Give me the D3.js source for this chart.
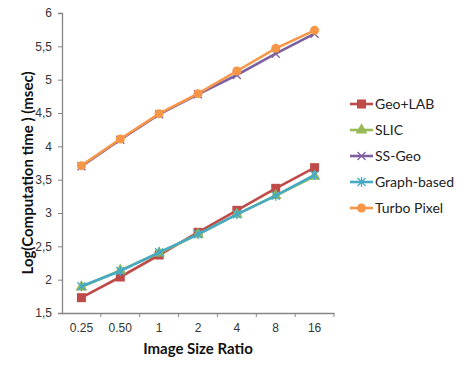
<!DOCTYPE html>
<html>
<head>
<meta charset="utf-8">
<script src="https://cdn.jsdelivr.net/npm/d3@7"></script>
<style>
  body { margin: 0; background: #fff; }
  svg { display: block; font-family: Lato, "Open Sans", sans-serif; }
</style>
</head>
<body>
<svg id="chart" width="474" height="378"></svg>
<script>
// values
var ratios = ["0.25", "0.50", "1", "2", "4", "8", "16"];
var geoLab = [1.73, 2.04, 2.37, 2.71, 3.04, 3.37, 3.68];
var slic = [1.89, 2.14, 2.40, 2.68, 2.98, 3.26, 3.55];
var ssGeo = [3.70, 4.10, 4.48, 4.78, 5.07, 5.39, 5.69];
var graphBased = [1.90, 2.13, 2.41, 2.68, 2.98, 3.26, 3.57];
var turboPixel = [3.71, 4.11, 4.49, 4.79, 5.13, 5.47, 5.74];
var yTicks = [1.5, 2, 2.5, 3, 3.5, 4, 4.5, 5, 5.5, 6];

var series = [
  { name: "Geo+LAB", values: geoLab, color: "#BE4B48", marker: "square" },
  { name: "SLIC", values: slic, color: "#98B954", marker: "triangle" },
  { name: "SS-Geo", values: ssGeo, color: "#7D60A0", marker: "x" },
  { name: "Graph-based", values: graphBased, color: "#46AAC5", marker: "star" },
  { name: "Turbo Pixel", values: turboPixel, color: "#F79646", marker: "circle" }
];

var svg = d3.select("#chart");
var plotLeft = 62, plotRight = 334, plotTop = 13, plotBottom = 313;

var x = d3.scaleBand().domain(ratios).range([plotLeft, plotRight]);
var y = d3.scaleLinear().domain([1.5, 6]).range([plotBottom, plotTop]);

// y axis
var yAxis = svg.append("g")
    .attr("transform", "translate(" + plotLeft + ",0)")
    .call(d3.axisLeft(y).tickValues(yTicks).tickSize(4).tickPadding(6)
      .tickFormat(function (d) { return String(d).replace(".", ","); }));

// x axis, ticks between categories
var xAxis = svg.append("g")
    .attr("transform", "translate(0," + plotBottom + ")")
    .call(d3.axisBottom(x).tickSize(0).tickPadding(10));
xAxis.selectAll(".sep")
    .data(ratios)
    .enter()
    .append("line")
    .attr("class", "sep")
    .attr("x1", function (d) { return x(d) + x.bandwidth(); })
    .attr("x2", function (d) { return x(d) + x.bandwidth(); })
    .attr("y1", 0)
    .attr("y2", 4);

[yAxis, xAxis].forEach(function (g) {
  g.selectAll("path.domain").attr("stroke", "#868686").attr("stroke-width", 1.3);
  g.selectAll("line").attr("stroke", "#868686");
  g.selectAll("text").attr("fill", "#333").style("font-size", "12px");
});

function cx(i) { return x(ratios[i]) + x.bandwidth() / 2; }

function drawMarker(g, kind, color, px, py) {
  if (kind === "square") {
    g.append("rect").attr("x", px - 4.5).attr("y", py - 4.5)
      .attr("width", 9).attr("height", 9).attr("fill", color);
  } else if (kind === "triangle") {
    g.append("path").attr("d", d3.symbol(d3.symbolTriangle, 60)())
      .attr("transform", "translate(" + px + "," + py + ")").attr("fill", color);
  } else if (kind === "circle") {
    g.append("circle").attr("cx", px).attr("cy", py).attr("r", 4.5).attr("fill", color);
  } else if (kind === "x") {
    g.append("path").attr("d", "M-4,-4L4,4M-4,4L4,-4")
      .attr("transform", "translate(" + px + "," + py + ")")
      .attr("stroke", color).attr("stroke-width", 1.3);
  } else {
    g.append("path").attr("d", "M-4,-4L4,4M-4,4L4,-4M0,-5L0,5")
      .attr("transform", "translate(" + px + "," + py + ")")
      .attr("stroke", color).attr("stroke-width", 1.3);
  }
}

var line = d3.line()
    .x(function (d, i) { return cx(i); })
    .y(function (d) { return y(d); });

series.forEach(function (s) {
  var g = svg.append("g");
  g.append("path")
    .attr("d", line(s.values))
    .attr("fill", "none")
    .attr("stroke", s.color)
    .attr("stroke-width", 2.6);
  s.values.forEach(function (v, i) {
    drawMarker(g, s.marker, s.color, cx(i), y(v));
  });
});

// legend
var legend = svg.selectAll(".legend")
    .data(series)
    .enter()
    .append("g")
    .attr("class", "legend")
    .attr("transform", function (d, i) { return "translate(350," + (104 + i * 26) + ")"; });

legend.append("line")
    .attr("x1", 0).attr("x2", 23).attr("y1", 0).attr("y2", 0)
    .attr("stroke", function (d) { return d.color; })
    .attr("stroke-width", 2.6);
legend.each(function (d) { drawMarker(d3.select(this), d.marker, d.color, 11.5, 0); });
legend.append("text")
    .attr("x", 25)
    .attr("y", 5)
    .attr("fill", "#222")
    .style("font-size", "14px")
    .text(function (d) { return d.name; });

// axis titles
svg.append("text")
    .attr("transform", "translate(33,173) rotate(-90)")
    .attr("text-anchor", "middle")
    .style("font-size", "15px")
    .style("font-weight", "bold")
    .attr("fill", "#111")
    .text("Log(Computation time ) (msec)");

svg.append("text")
    .attr("x", 198)
    .attr("y", 354)
    .attr("text-anchor", "middle")
    .style("font-size", "15px")
    .style("font-weight", "bold")
    .attr("fill", "#111")
    .text("Image Size Ratio");
</script>
</body>
</html>
